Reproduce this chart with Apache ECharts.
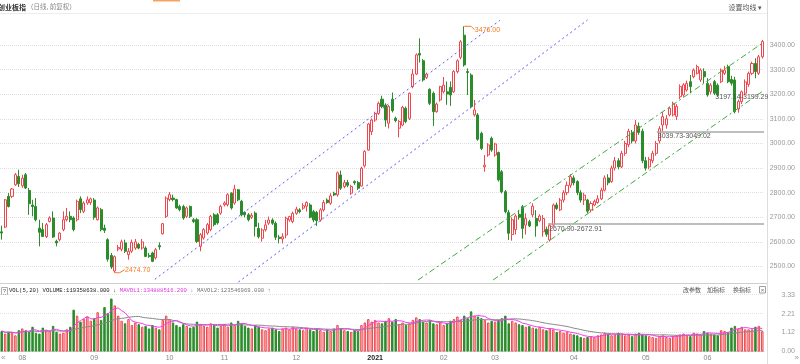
<!DOCTYPE html>
<html><head><meta charset="utf-8">
<script src="https://cdn.jsdelivr.net/npm/echarts@6/dist/echarts.min.js"></script>
<style>html,body{margin:0;padding:0;background:#fff}#c{width:800px;height:364px}</style>
</head><body><div id="c"></div>
<script>
const monthDays = [
 ['2020-07',[24,27,28,29,30,31]],
 ['2020-08',[3,4,5,6,7,10,11,12,13,14,17,18,19,20,21,24,25,26,27,28,31]],
 ['2020-09',[1,2,3,4,7,8,9,10,11,14,15,16,17,18,21,22,23,24,25,28,29,30]],
 ['2020-10',[9,12,13,14,15,16,19,20,21,22,23,26,27,28,29,30]],
 ['2020-11',[2,3,4,5,6,9,10,11,12,13,16,17,18,19,20,23,24,25,26,27,30]],
 ['2020-12',[1,2,3,4,7,8,9,10,11,14,15,16,17,18,21,22,23,24,25,28,29,30,31]],
 ['2021-01',[4,5,6,7,8,11,12,13,14,15,18,19,20,21,22,25,26,27,28,29]],
 ['2021-02',[1,2,3,4,5,8,9,10,18,19,22,23,24,25,26]],
 ['2021-03',[1,2,3,4,5,8,9,10,11,12,15,16,17,18,19,22,23,24,25,26,29,30,31]],
 ['2021-04',[1,2,6,7,8,9,12,13,14,15,16,19,20,21,22,23,26,27,28,29,30]],
 ['2021-05',[6,7,10,11,12,13,14,17,18,19,20,21,24,25,26,27,28,31]],
 ['2021-06',[1,2,3,4,7,8,9,10,11,15,16,17,18,21,22,23,24]]
];
const dates = [];
monthDays.forEach(([m, ds]) => ds.forEach(d => dates.push(m + '-' + String(d).padStart(2, '0'))));

// [open, close, low, high]
const ohlc = [
[2641,2636,2609,2666],[2660,2771,2656,2774],[2785,2744,2740,2798],[2785,2815,2778,2819],[2832,2873,2828,2880],
[2866,2836,2823,2893],[2828,2859,2820,2873],[2873,2819,2815,2880],[2809,2755,2710,2819],[2750,2744,2704,2771],
[2744,2690,2683,2778],[2656,2639,2582,2690],[2650,2622,2620,2677],[2622,2670,2616,2677],[2683,2697,2679,2704],
[2697,2620,2616,2724],[2603,2596,2582,2609],[2609,2636,2602,2639],[2650,2690,2643,2724],[2690,2704,2683,2738],
[2704,2690,2680,2724],[2697,2650,2643,2704],[2690,2765,2683,2772],[2775,2731,2717,2785],[2724,2758,2717,2765],
[2758,2771,2751,2785],[2760,2775,2750,2780],[2770,2700,2690,2778],[2690,2738,2687,2744],[2731,2650,2643,2738],
[2656,2647,2636,2670],[2609,2530,2520,2615],[2545,2498,2490,2555],[2482,2540,2474.7,2545],[2571,2577,2562,2588],
[2570,2600,2562,2609],[2596,2562,2555,2609],[2548,2562,2528,2575],[2562,2598,2555,2609],[2575,2600,2568,2612],
[2590,2575,2570,2596],[2575,2600,2568,2612],[2575,2541,2538,2582],[2545,2541,2535,2555],[2555,2521,2518,2560],
[2535,2568,2528,2575],[2585,2580,2568,2598],[2633,2674,2630,2677],[2704,2778,2697,2785],[2772,2792,2765,2802],
[2778,2772,2765,2792],[2772,2738,2734,2775],[2744,2731,2724,2751],[2744,2697,2690,2751],[2704,2738,2697,2744],
[2744,2704,2697,2748],[2690,2683,2677,2697],[2690,2602,2595,2697],[2582,2629,2562,2636],[2616,2650,2609,2656],
[2636,2670,2629,2677],[2650,2704,2643,2710],[2710,2670,2663,2717],[2710,2677,2670,2717],[2717,2744,2710,2751],
[2751,2758,2744,2765],[2751,2792,2744,2798],[2798,2738,2731,2802],[2758,2815,2751,2832],[2812,2771,2765,2815],
[2765,2710,2704,2771],[2720,2710,2700,2724],[2710,2690,2683,2717],[2700,2708,2693,2717],[2717,2663,2622,2724],
[2655,2621,2614,2678],[2615,2649,2601,2656],[2649,2669,2642,2689],[2676,2689,2669,2703],[2689,2676,2669,2696],
[2676,2619,2608,2683],[2619,2614,2594,2628],[2612,2621,2594,2635],[2628,2696,2615,2703],[2689,2703,2682,2706],
[2683,2716,2676,2723],[2716,2733,2710,2743],[2730,2723,2716,2737],[2737,2747,2730,2757],[2745,2760,2723,2765],
[2750,2700,2696,2757],[2723,2689,2680,2730],[2720,2686,2665,2726],[2689,2730,2682,2737],[2730,2760,2723,2770],
[2770,2760,2755,2777],[2757,2787,2750,2798],[2797,2791,2786,2804],[2791,2881,2784,2886],[2872,2818,2811,2890],
[2825,2841,2818,2852],[2841,2830,2822,2852],[2798,2825,2791,2832],[2845,2840,2832,2850],[2841,2818,2811,2848],
[2827,2899,2825,2906],[2909,2967,2902,2973],[2973,3079,2970,3084],[3048,3095,3034,3102],[3095,3122,3088,3129],
[3122,3163,3116,3170],[3180,3150,3143,3194],[3156,3095,3068,3163],[3082,3150,3061,3156],[3180,3133,3126,3207],
[3102,3093,3086,3109],[3062,3089,3025,3095],[3075,3147,3070,3153],[3143,3089,3082,3150],[3102,3204,3095,3207],
[3231,3282,3224,3302],[3282,3360,3278,3366],[3366,3359,3329,3427],[3336,3258,3251,3343],[3268,3282,3262,3288],
[3220,3163,3156,3224],[3204,3129,3071,3211],[3129,3160,3125,3166],[3177,3231,3170,3234],[3210,3237,3203,3270],
[3210,3201,3157,3252],[3228,3197,3153,3252],[3210,3292,3205,3298],[3292,3336,3285,3342],[3350,3413,3342,3420],
[3440,3319,3312,3476],[3292,3288,3197,3305],[3278,3150,3143,3285],[3116,3136,3109,3177],[3116,3017,3011,3123],
[3041,2980,2973,3048],[2905,2912,2885,2953],[2953,2994,2946,3001],[3021,2973,2966,3028],[2953,2998,2946,3003],
[2963,2852,2845,2967],[2885,2804,2797,2892],[2804,2723,2716,2811],[2719,2635,2608,2730],[2630,2690,2605,2700],
[2650,2705,2630,2712],[2712,2700,2690,2730],[2743,2655,2614,2750],[2668,2695,2630,2716],[2682,2665,2660,2690],
[2710,2745,2700,2757],[2695,2665,2621,2729],[2686,2705,2680,2712],[2641,2695,2621,2709],[2651,2631,2621,2662],
[2608,2668,2601,2675],[2668,2750,2662,2756],[2750,2736,2730,2760],[2730,2770,2725,2778],[2770,2800,2760,2810],
[2800,2830,2790,2845],[2830,2865,2820,2875],[2860,2840,2830,2870],[2845,2800,2790,2850],[2800,2770,2760,2810],
[2770,2790,2750,2800],[2770,2725,2716,2775],[2730,2756,2720,2765],[2750,2765,2745,2772],[2760,2775,2755,2790],
[2775,2810,2770,2820],[2810,2860,2805,2870],[2860,2840,2830,2875],[2845,2900,2840,2910],[2900,2930,2890,2945],
[2930,2905,2895,2940],[2905,2960,2900,2970],[2960,3000,2950,3010],[2995,3050,2985,3060],[3045,3010,3000,3055],
[3010,3075,3000,3095],[3070,3045,3035,3085],[3050,2930,2920,3060],[2930,2900,2890,2945],[2905,2935,2895,2945],
[2930,2960,2920,2970],[2960,3000,2950,3010],[3010,3060,3000,3070],[3075,3109,3048,3129],[3075,3100,3060,3115],
[3116,3143,3110,3150],[3116,3163,3110,3170],[3110,3150,3095,3160],[3190,3231,3180,3240],[3197,3238,3190,3245],
[3217,3244,3210,3255],[3251,3231,3204,3278],[3271,3298,3265,3305],[3285,3312,3280,3320],[3258,3298,3250,3305],
[3292,3271,3244,3305],[3244,3197,3190,3265],[3210,3237,3200,3245],[3251,3204,3197,3258],[3237,3197,3190,3244],
[3251,3298,3245,3305],[3285,3298,3278,3315],[3312,3251,3245,3320],[3260,3245,3235,3275],[3258,3129,3122,3271],
[3140,3170,3125,3178],[3170,3210,3160,3215],[3204,3250,3195,3260],[3240,3285,3230,3292],[3285,3325,3278,3332],
[3325,3292,3265,3346],[3285,3352,3278,3360],[3352,3414,3345,3420]
];

// volume, unit 1e8
const volume = [
1.20,1.05,1.15,1.10,0.95,1.25,
1.35,1.25,1.15,1.45,1.10,1.05,1.40,1.25,1.20,1.50,1.15,1.05,1.10,1.30,1.45,2.45,2.10,1.75,1.90,2.05,1.80,
1.95,2.30,1.85,2.60,2.25,3.10,2.70,2.10,1.80,1.65,1.90,1.55,1.70,1.60,1.45,1.50,1.35,1.55,1.40,1.30,
1.85,2.10,1.90,1.70,1.55,1.45,1.60,1.50,1.40,1.45,1.75,1.60,1.50,1.45,1.65,1.55,1.40,1.50,
1.60,1.45,1.70,1.55,1.80,1.65,1.50,1.40,1.35,1.55,1.45,1.30,1.25,1.35,1.40,1.30,1.20,1.35,1.40,1.30,1.45,
1.35,1.30,1.25,1.40,1.30,1.20,1.35,1.25,1.15,1.30,1.20,1.35,1.55,1.35,1.25,1.20,1.15,1.25,1.20,1.55,1.70,1.90,1.75,
1.85,1.70,1.65,1.80,1.95,1.75,1.90,1.60,1.70,1.55,1.65,1.85,2.00,1.90,1.75,1.70,1.85,1.65,1.60,1.70,
1.55,1.65,1.80,1.90,2.05,1.85,2.10,1.95,2.35,2.10,2.05,1.95,1.85,1.70,1.80,
1.75,1.85,1.95,2.10,1.65,1.80,1.70,1.60,1.55,1.45,1.50,1.40,1.35,1.45,1.30,1.25,1.35,1.30,1.15,1.20,1.10,1.15,1.05,
1.00,0.95,0.85,0.80,0.85,0.90,0.85,0.95,1.00,1.10,1.05,0.95,1.00,1.10,1.05,0.95,1.00,0.90,1.05,1.10,1.00,
0.95,0.90,0.85,0.80,0.90,0.95,0.85,0.80,0.90,0.95,1.00,1.05,0.95,0.90,1.10,1.05,1.00,1.20,
1.10,1.05,1.00,0.95,1.25,1.20,1.15,1.40,1.50,1.35,1.45,1.30,1.30,1.30,1.45,1.50,1.1936
];

const priceTicks = [2500,2600,2700,2800,2900,3000,3100,3200,3300,3400];
const volTicks = [0, 1.12, 2.21, 3.33];

// trend lines: [[dayIndex, price], [dayIndex, price]]
const blueUpper = [[44.7, 2448], [145.4, 3500]];
const blueLower = [[69.1, 2437], [171.0, 3502]];
const greenUpper = [[121.5, 2445], [222.5, 3412]];
const greenLower = [[143.4, 2445], [222.5, 3216]];
const levelLines = [
  {from: 159.5, to: 222.5, value: 2672, text: '2670.90-2672.91'},
  {from: 191.2, to: 222.5, value: 3048.6, text: '3039.73-3049.02'}
];
const levelNote = {at: [208.3, 3189], text: '3197.14-3199.29'};
const peakNote = {leader: [[135, 3476], [137.0, 3476], [138.0, 3462]], at: [138.1, 3462], text: '3476.00'};
const lowNote = {leader: [[33, 2474.7], [34.4, 2474.7], [35.9, 2487]], at: [36.0, 2487], text: '2474.70'};

function movingAvg(arr, n) {
  return arr.map((_, i) => {
    const s = Math.max(0, i - n + 1);
    let t = 0;
    for (let j = s; j <= i; j++) t += arr[j];
    return +(t / (i - s + 1)).toFixed(4);
  });
}
const ma5 = movingAvg(volume, 5);
const ma20 = movingAvg(volume, 20);

const UP = '#f0474f', DOWN = '#2b8c2b';
const volData = volume.map((v, i) => {
  const up = ohlc[i][1] >= ohlc[i][0];
  return {value: v, itemStyle: up ? {color: '#fcd3d3', borderColor: UP, borderWidth: 1} : {color: DOWN, borderColor: DOWN, borderWidth: 1}};
});

const chart = echarts.init(document.getElementById('c'), null, {renderer: 'canvas'});
const plotRight = 36;
const option = {
  animation: false,
  backgroundColor: '#fff',
  textStyle: {fontFamily: 'Liberation Sans, Noto Sans CJK SC, sans-serif'},
  grid: [
    {left: 0, right: plotRight, top: 14, height: 269},
    {left: 0, right: plotRight, top: 294.6, height: 56.9}
  ],
  xAxis: [
    {type: 'category', gridIndex: 0, data: dates, boundaryGap: true,
     axisLine: {show: false}, axisTick: {show: false}, axisLabel: {show: false}, splitLine: {show: false}},
    {type: 'category', gridIndex: 1, data: dates, boundaryGap: true,
     axisLine: {show: true, lineStyle: {color: '#c8c8c8'}}, axisTick: {show: false}, splitLine: {show: false},
     axisLabel: {
       interval: (idx, val) => idx > 0 && dates[idx - 1].slice(0, 7) !== val.slice(0, 7),
       formatter: v => v.slice(5, 7) === '01' ? '{y|' + v.slice(0, 4) + '}' : '{m|' + v.slice(5, 7) + '}',
       margin: 3,
       rich: {m: {color: '#888', fontSize: 7}, y: {color: '#222', fontSize: 7, fontWeight: 'bold'}}
     }},
    {type: 'value', gridIndex: 0, min: -0.5, max: 222.5, show: false}
  ],
  yAxis: [
    {type: 'value', gridIndex: 0, position: 'right', min: 2433, max: 3526,
     axisLine: {show: false}, axisTick: {show: false, customValues: priceTicks},
     axisLabel: {customValues: priceTicks, formatter: v => v.toFixed(2), color: '#9a9a9a', fontSize: 7, align: 'right', margin: 31},
     splitLine: {show: true, lineStyle: {color: '#dedede', type: 'dotted'}}},
    {type: 'value', gridIndex: 1, position: 'right', min: 0, max: 3.33,
     axisLine: {show: false}, axisTick: {show: false, customValues: volTicks},
     axisLabel: {customValues: volTicks, formatter: v => v.toFixed(2), color: '#9a9a9a', fontSize: 7, align: 'right', margin: 31},
     splitLine: {show: true, lineStyle: {color: '#e2e2e2', type: 'dotted'}}}
  ],
  series: [
    {type: 'candlestick', xAxisIndex: 0, yAxisIndex: 0, data: ohlc, barWidth: '74%',
     itemStyle: {color: '#ffffff', color0: DOWN, borderColor: UP, borderColor0: DOWN, borderWidth: 1}},
    {type: 'bar', xAxisIndex: 1, yAxisIndex: 1, data: volData, barWidth: '72%'},
    {type: 'line', xAxisIndex: 1, yAxisIndex: 1, data: ma20, symbol: 'none', lineStyle: {color: '#8a8a8a', width: 1}},
    {type: 'line', xAxisIndex: 1, yAxisIndex: 1, data: ma5, symbol: 'none', lineStyle: {color: '#f23cf2', width: 1}},
    {type: 'line', xAxisIndex: 2, yAxisIndex: 0, data: blueUpper, symbol: 'none', silent: true,
     lineStyle: {color: '#5a5af5', width: 1, type: [2, 3]}},
    {type: 'line', xAxisIndex: 2, yAxisIndex: 0, data: blueLower, symbol: 'none', silent: true,
     lineStyle: {color: '#5a5af5', width: 1, type: [2, 3]}},
    {type: 'line', xAxisIndex: 2, yAxisIndex: 0, data: greenUpper, symbol: 'none', silent: true,
     lineStyle: {color: '#44a844', width: 1, type: [6, 3, 2, 3]}},
    {type: 'line', xAxisIndex: 2, yAxisIndex: 0, data: greenLower, symbol: 'none', silent: true,
     lineStyle: {color: '#44a844', width: 1, type: [6, 3, 2, 3]},
     markLine: {silent: true, symbol: ['none', 'none'],
       lineStyle: {color: '#a8a8a8', width: 1.5, type: 'solid'},
       label: {show: true, position: 'insideStartBottom', distance: [1, 1], color: '#555', fontSize: 7},
       data: levelLines.map(l => [{coord: [l.from, l.value], label: {formatter: l.text}}, {coord: [l.to, l.value]}])
     },
     markPoint: {silent: true, symbol: 'circle', symbolSize: 0,
       data: [
         {coord: levelNote.at, label: {show: true, formatter: levelNote.text, position: 'right', distance: 0, color: '#555', fontSize: 7}},
         {coord: peakNote.at, label: {show: true, formatter: peakNote.text, position: 'right', distance: 0, color: '#f47a22', fontSize: 7}},
         {coord: lowNote.at, label: {show: true, formatter: lowNote.text, position: 'right', distance: 0, color: '#f47a22', fontSize: 7}}
       ]}},
    {type: 'line', xAxisIndex: 2, yAxisIndex: 0, data: peakNote.leader, symbol: 'none', silent: true,
     lineStyle: {color: '#f47a22', width: 1}},
    {type: 'line', xAxisIndex: 2, yAxisIndex: 0, data: lowNote.leader, symbol: 'none', silent: true,
     lineStyle: {color: '#f47a22', width: 1}}
  ],
  graphic: [
    {type: 'rect', shape: {x: 153, y: 0, width: 27, height: 1.5}, style: {fill: '#f4a460'}, silent: true},
    {type: 'line', shape: {x1: 0, y1: 13.5, x2: 767, y2: 13.5}, style: {stroke: '#ececec', lineWidth: 1}, silent: true},
    {type: 'line', shape: {x1: 767.5, y1: 0, x2: 767.5, y2: 364}, style: {stroke: '#dcdcdc', lineWidth: 1}, silent: true},
    {type: 'line', shape: {x1: 0, y1: 283.5, x2: 767, y2: 283.5}, style: {stroke: '#cfcfcf', lineWidth: 1}, silent: true},
    {type: 'text', x: -2, y: 7, style: {text: '创业板指', fill: '#333', font: 'bold 7px "Noto Sans CJK SC"', verticalAlign: 'middle'}, silent: true},
    {type: 'text', x: 27, y: 7, style: {text: '（日线, 前复权）', fill: '#888', font: '6.5px "Noto Sans CJK SC"', verticalAlign: 'middle'}, silent: true},
    {type: 'text', x: 762, y: 7, style: {text: '设置均线 ▾', fill: '#555', font: '7px "Noto Sans CJK SC"', align: 'right', verticalAlign: 'middle'}, silent: true},
    {type: 'rect', shape: {x: 1.5, y: 287.5, width: 6, height: 7}, style: {fill: 'none', stroke: '#999', lineWidth: 0.8}, silent: true},
    {type: 'text', x: 4.5, y: 291, style: {text: '?', fill: '#666', font: '6px "Liberation Sans"', align: 'center', verticalAlign: 'middle'}, silent: true},
    {type: 'text', x: 9, y: 291, style: {
      text: '{a|VOL(5,20) VOLUME:119358638.000 ↓ }{b|MAVOL1:134888516.200 ↓ }{c|MAVOL2:123546969.000 ↑}',
      verticalAlign: 'middle',
      rich: {a: {fill: '#222', font: '5.6px "Liberation Mono"'}, b: {fill: '#e632e6', font: '5.6px "Liberation Mono"'}, c: {fill: '#777', font: '5.6px "Liberation Mono"'}}
    }, silent: true},
    {type: 'text', x: 683, y: 290, style: {text: '改参数', fill: '#555', font: '6px "Noto Sans CJK SC"', verticalAlign: 'middle'}, silent: true},
    {type: 'text', x: 707, y: 290, style: {text: '加指标', fill: '#555', font: '6px "Noto Sans CJK SC"', verticalAlign: 'middle'}, silent: true},
    {type: 'text', x: 733, y: 290, style: {text: '换指标', fill: '#555', font: '6px "Noto Sans CJK SC"', verticalAlign: 'middle'}, silent: true},
    {type: 'rect', shape: {x: 759.5, y: 286.5, width: 6, height: 6.5}, style: {fill: 'none', stroke: '#888', lineWidth: 0.8}, silent: true},
    {type: 'text', x: 762.5, y: 290, style: {text: '×', fill: '#666', font: '6px "Liberation Sans"', align: 'center', verticalAlign: 'middle'}, silent: true},
    {type: 'text', x: 1, y: 357.5, style: {text: '«', fill: '#999', font: '8px "Liberation Sans"', verticalAlign: 'middle'}, silent: true},
    {type: 'text', x: 799, y: 357.5, style: {text: '»', fill: '#999', font: '8px "Liberation Sans"', align: 'right', verticalAlign: 'middle'}, silent: true}
  ]
};
chart.setOption(option);
</script>
</body></html>
